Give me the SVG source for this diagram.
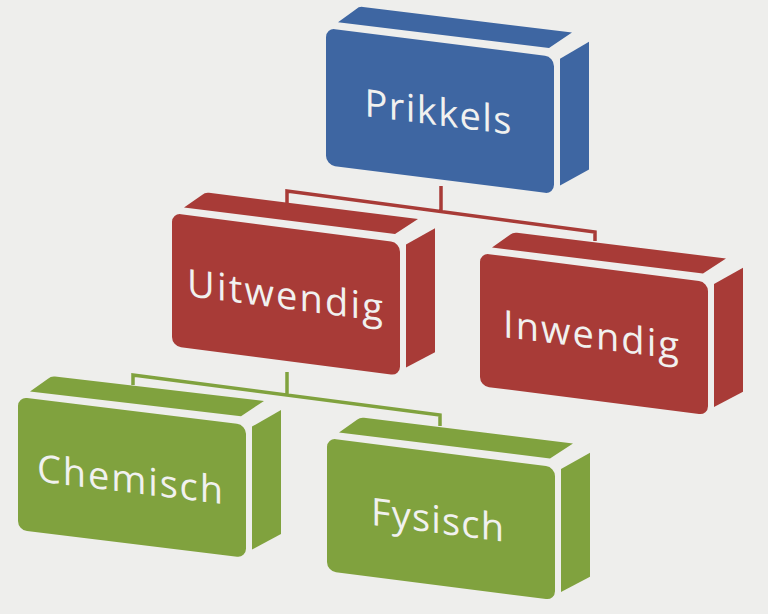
<svg xmlns="http://www.w3.org/2000/svg" xmlns:xlink="http://www.w3.org/1999/xlink" width="768" height="614" viewBox="0 0 768 614">
<style>
.lbl{font-family:"Open Sans","Noto Sans","DejaVu Sans",sans-serif;font-size:38px;fill:#f1f1ef;text-anchor:middle}
.conn{fill:none;stroke-width:3.5;stroke-linecap:butt;stroke-linejoin:miter}
</style>
<defs>
<g id="box">
<rect x="0" y="0" width="228" height="133" rx="9"/>
<path d="M12,-7 L30,-22 Q33,-25 37,-25 L246,-26 L223,-8 Z"/>
<path d="M234,1 L263,-19 L263,105 L234,124 Z"/>
</g>
</defs>
<rect width="768" height="614" fill="#eeeeec"/>
<g id="connectors">
<path class="conn" stroke="#a83b37" d="M441,186 V211.5 M287,203 V191 L595,232 V241"/>
<path class="conn" stroke="#80a23e" d="M287,372 V395 M133,385 V375 L440,415 V426"/>
</g>
<g id="node-prikkels" transform="matrix(1,0.127,0,1,326,28)">
<use xlink:href="#box" fill="#3e66a2" transform="scale(1,1.03)"/>
<text class="lbl" x="112" y="83" textLength="147">Prikkels</text>
</g>
<g id="node-uitwendig" transform="matrix(1,0.13,0,1,172,213)">
<use xlink:href="#box" fill="#a83b37"/>
<text class="lbl" x="113" y="81" textLength="196">Uitwendig</text>
</g>
<g id="node-inwendig" transform="matrix(1,0.128,0,1,480,253)">
<use xlink:href="#box" fill="#a83b37"/>
<text class="lbl" x="111" y="81" textLength="176">Inwendig</text>
</g>
<g id="node-chemisch" transform="matrix(1,0.122,0,1,18,397)">
<use xlink:href="#box" fill="#80a23e"/>
<text class="lbl" x="112" y="82" textLength="186">Chemisch</text>
</g>
<g id="node-fysisch" transform="matrix(1,0.128,0,1,327,438)">
<use xlink:href="#box" fill="#80a23e"/>
<text class="lbl" x="110.5" y="81" textLength="133">Fysisch</text>
</g>
</svg>
